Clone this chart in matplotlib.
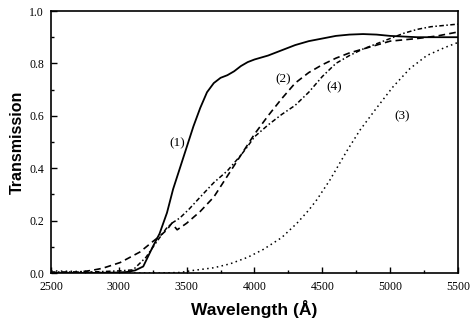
"""Transmission spectra of the four samples, wavelength in Angstrom."""

import matplotlib
matplotlib.use("Agg")
import matplotlib.pyplot as plt
from matplotlib.ticker import MultipleLocator

# --- data (wavelength in Å, transmission 0..1) ----------------------------- #
wl_1 = [2500, 2800, 3000, 3060, 3120, 3180, 3250, 3300, 3355, 3400, 3450, 3500,
        3550, 3600, 3650, 3700, 3750, 3800, 3850, 3900, 3950, 4000, 4100, 4200,
        4300, 4400, 4500, 4600, 4700, 4800, 4900, 5000, 5200, 5500]
tr_1 = [0.0, 0.0, 0.002, 0.004, 0.01, 0.025, 0.10, 0.15, 0.23, 0.32, 0.40, 0.48,
        0.56, 0.63, 0.69, 0.725, 0.745, 0.755, 0.77, 0.79, 0.805, 0.815, 0.83, 0.85,
        0.87, 0.885, 0.895, 0.905, 0.91, 0.912, 0.91, 0.905, 0.90, 0.90]

wl_2 = [2500, 2700, 2800, 2880, 3010, 3155, 3250, 3300, 3355, 3390, 3430, 3500,
        3600, 3700, 3800, 3900, 4000, 4100, 4200, 4300, 4400, 4500, 4600, 4700,
        4800, 4900, 5000, 5200, 5350, 5500]
tr_2 = [0.0, 0.003, 0.01, 0.018, 0.04, 0.08, 0.12, 0.14, 0.165, 0.19, 0.165, 0.19,
        0.235, 0.29, 0.37, 0.45, 0.53, 0.60, 0.665, 0.725, 0.765, 0.795, 0.82, 0.84,
        0.855, 0.87, 0.885, 0.895, 0.905, 0.92]

wl_3 = [2500, 2700, 2850, 3000, 3300, 3450, 3550, 3700, 3820, 3950, 4065, 4200,
        4313, 4400, 4460, 4556, 4680, 4777, 4900, 5020, 5145, 5270, 5400, 5500]
tr_3 = [0.008, 0.006, 0.002, 0.0, 0.0, 0.002, 0.01, 0.02, 0.035, 0.06, 0.09, 0.135,
        0.19, 0.24, 0.28, 0.355, 0.465, 0.545, 0.63, 0.71, 0.78, 0.83, 0.86, 0.88]

wl_4 = [2500, 2800, 3000, 3105, 3200, 3280, 3350, 3390, 3450, 3520, 3600, 3700,
        3800, 3900, 3945, 4000, 4100, 4200, 4300, 4400, 4500, 4600, 4700, 4800,
        4900, 5000, 5100, 5200, 5300, 5500]
tr_4 = [0.004, 0.004, 0.008, 0.012, 0.06, 0.12, 0.17, 0.19, 0.21, 0.245, 0.29, 0.345,
        0.39, 0.45, 0.48, 0.52, 0.565, 0.605, 0.64, 0.69, 0.75, 0.80, 0.83, 0.855,
        0.875, 0.895, 0.915, 0.93, 0.94, 0.95]

curve_labels = ["(1)", "(2)", "(3)", "(4)"]
label_wl = [3430, 4210, 5087, 4585]
label_tr = [0.496, 0.74, 0.60, 0.71]

SERIF = "Liberation Serif"
SANS = "Liberation Sans"

fig = plt.figure(figsize=(4.74, 3.21), dpi=100)
ax = fig.add_axes([0.1076, 0.1495, 0.8586, 0.8162])

ax.plot(wl_1, tr_1, color="black", lw=1.3, ls="-")
ax.plot(wl_2, tr_2, color="black", lw=1.2, ls=(0, (4, 2.5)))
ax.plot(wl_3, tr_3, color="black", lw=1.1, ls=(0, (1, 2.2)))
ax.plot(wl_4, tr_4, color="black", lw=1.1, ls=(0, (3, 1.6, 1, 1.6)))

for txt, x, y in zip(curve_labels, label_wl, label_tr):
    ax.text(x, y, txt, family=SERIF, fontsize=9.5, ha="center", va="center")

ax.set_xlim(2500, 5500)
ax.set_ylim(0, 1.0)
ax.xaxis.set_major_locator(MultipleLocator(500))
ax.xaxis.set_minor_locator(MultipleLocator(250))
ax.yaxis.set_major_locator(MultipleLocator(0.2))
ax.yaxis.set_minor_locator(MultipleLocator(0.1))
ax.yaxis.set_major_formatter(lambda v, _: f"{v:.1f}")
ax.tick_params(which="both", direction="in", top=False, right=False, width=1)
ax.tick_params(which="major", length=4.5, labelsize=8.5)
ax.tick_params(which="minor", length=2.5)
ax.tick_params(axis="x", which="major", pad=6)
ax.tick_params(axis="y", which="major", pad=5)
for lab in ax.get_xticklabels() + ax.get_yticklabels():
    lab.set_family(SERIF)
for sp in ax.spines.values():
    sp.set_linewidth(1.2)

ax.set_xlabel("Wavelength (Å)", family=SANS, fontweight="bold", fontsize=12.5,
              labelpad=5)
ax.set_ylabel("Transmission", family=SANS, fontweight="bold", fontsize=11.5,
              labelpad=3)

fig.savefig("out.png", dpi=100)
